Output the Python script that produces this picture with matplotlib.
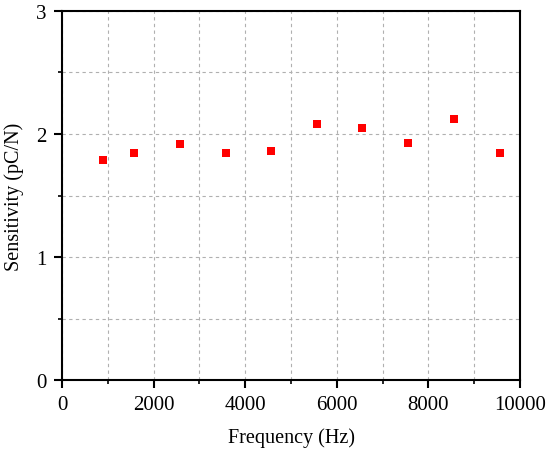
import matplotlib
matplotlib.use('Agg')
import matplotlib.pyplot as plt
from matplotlib.ticker import MultipleLocator

# sensitivity measured at each frequency
frequency = [900, 1570, 2570, 3570, 4570, 5565, 6560, 7560, 8555, 9555]
sensitivity = [1.787, 1.843, 1.916, 1.849, 1.862, 2.084, 2.046, 1.930, 2.122, 1.843]

plt.rcParams['font.family'] = ['Liberation Serif', 'DejaVu Serif']

fig = plt.figure(figsize=(5.5, 4.52), dpi=100)
ax = fig.add_axes([0.1127, 0.157, 0.8328, 0.8165])

ax.plot(frequency, sensitivity, 's', color='#ff0000', markersize=5.5, markeredgewidth=0)

ax.set_xlim(0, 10000)
ax.set_ylim(0, 3)
ax.xaxis.set_major_locator(MultipleLocator(2000))
ax.xaxis.set_minor_locator(MultipleLocator(1000))
ax.yaxis.set_major_locator(MultipleLocator(1))
ax.yaxis.set_minor_locator(MultipleLocator(0.5))

ax.grid(which='both', color='#b0b0b0', linestyle=(0, (3, 3)), linewidth=0.8)
ax.set_axisbelow(True)

for s in ax.spines.values():
    s.set_linewidth(1.5)
ax.tick_params(which='major', direction='out', length=6, width=1.5, labelsize=15,
               pad=5, top=False, right=False)
ax.tick_params(which='minor', direction='out', length=3, width=1.2,
               top=False, right=False)

ax.set_xlabel('Frequency (Hz)', fontsize=14.5, labelpad=9)
ax.set_ylabel('Sensitivity (pC/N)', fontsize=14.5, labelpad=9)

fig.savefig('out.png', dpi=100)
